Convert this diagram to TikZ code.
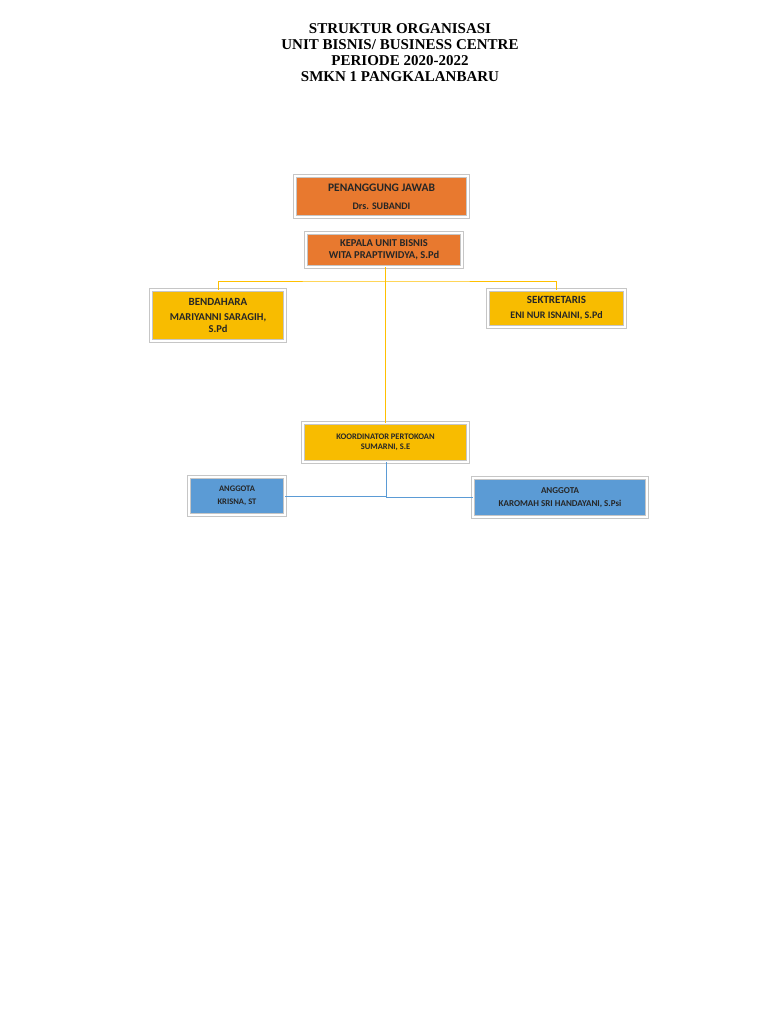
\documentclass[tikz,border=0pt]{standalone}
\usepackage{fontspec}
\setmainfont{Liberation Serif}
\newfontfamily\boxfont{Carlito}
\usetikzlibrary{shadows}
\definecolor{org}{HTML}{E8792F}
\definecolor{yel}{HTML}{F8BC00}
\definecolor{blu}{HTML}{5B9BD5}
\definecolor{yline}{HTML}{FFC000}
\definecolor{bline}{HTML}{5B9BD5}
\tikzset{
 card/.style={draw=gray!45, double=white, double distance=2.6pt, line width=0.4pt, align=center,
   font=\boxfont\bfseries, text=black!85, inner sep=0pt, anchor=center,
   drop shadow={shadow xshift=1pt,shadow yshift=-1pt,opacity=0.25}},
 ob/.style={card, fill=org},
 yb/.style={card, fill=yel},
 bb/.style={card, fill=blu},
 yl/.style={draw=yline, line width=0.9pt},
 bl/.style={draw=bline, line width=0.9pt},
}
\begin{document}
\begin{tikzpicture}[x=1pt,y=-1pt]
\useasboundingbox (0,0) rectangle (768,1024);
\node[font=\bfseries\fontsize{15}{16}\selectfont, align=center] (title) at (400,53)
 {STRUKTUR ORGANISASI\\UNIT BISNIS/ BUSINESS CENTRE\\PERIODE 2020-2022\\SMKN 1 PANGKALANBARU};

\node[ob, minimum width=173pt, minimum height=41pt, font=\boxfont\bfseries\fontsize{11.5}{19}\selectfont] (pj) at (381.5,196.5) {PENANGGUNG JAWAB\\[-1pt]{\fontsize{10}{12}\selectfont Drs. SUBANDI}};
\node[ob, minimum width=156pt, minimum height=34pt, font=\boxfont\bfseries\fontsize{10.5}{12}\selectfont] (kub) at (384,250) {KEPALA UNIT BISNIS\\WITA PRAPTIWIDYA, S.Pd};
\node[yb, minimum width=134pt, minimum height=51pt, font=\boxfont\bfseries\fontsize{11}{12}\selectfont] (ben) at (218,315.5) {BENDAHARA\\[3pt]{\fontsize{10.5}{12}\selectfont MARIYANNI SARAGIH,}\\{\fontsize{10.5}{12}\selectfont S.Pd}};
\node[yb, minimum width=137pt, minimum height=37pt, font=\boxfont\bfseries\fontsize{11}{12}\selectfont] (sek) at (556.5,308.5) {SEKTRETARIS\\[3pt]{\fontsize{10}{12}\selectfont ENI NUR ISNAINI, S.Pd}};
\node[yb, minimum width=165pt, minimum height=39pt, font=\boxfont\bfseries\fontsize{8.5}{10}\selectfont] (koo) at (385.5,442.5) {KOORDINATOR PERTOKOAN\\SUMARNI, S.E};
\node[bb, minimum width=96pt, minimum height=38pt, font=\boxfont\bfseries\fontsize{8.5}{13}\selectfont] (ak) at (237,496) {ANGGOTA\\KRISNA, ST};
\node[bb, minimum width=174pt, minimum height=39pt, font=\boxfont\bfseries\fontsize{9}{13}\selectfont] (ah) at (560,497.5) {ANGGOTA\\KAROMAH SRI HANDAYANI, S.Psi};

\coordinate (yh) at (385,281);
\draw[yl] (kub.south -| yh) -- (koo.north -| yh);
\draw[yl] (ben.north) |- (yh) -| (sek.north);
\coordinate (bh) at (386,496);
\draw[bl] (koo.south -| bh) -- (bh);
\draw[bl] (ak.east) -- (ak.east -| bh);
\draw[bl] (bh) |- (ah.west);
\end{tikzpicture}
\end{document}
